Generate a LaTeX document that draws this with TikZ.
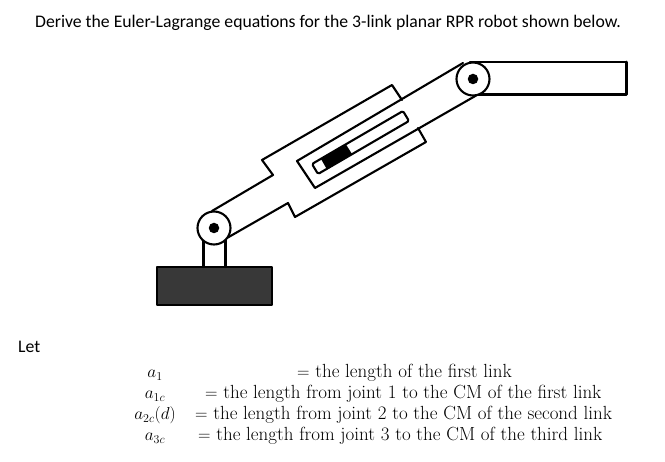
\documentclass[tikz,border=0pt]{standalone}
\usepackage{fontspec}
\setmainfont{Latin Modern Roman}
\newfontfamily\calibri{Carlito}
\begin{document}
\begin{tikzpicture}[x=1pt,y=-1pt,line join=round,line cap=round,
	edge/.style={line width=2.1pt},
	joint/.style={circle,draw,fill=white,line width=2.1pt,minimum size=33pt,inner sep=0pt},
	pin/.style={circle,fill=black,minimum size=10.5pt,inner sep=0pt},
	math/.style={anchor=base,font=\fontsize{17.5}{20}\selectfont,inner sep=0pt},
	eqn/.style={anchor=base west,font=\fontsize{19}{22}\selectfont,inner sep=0pt},
	plain/.style={font=\calibri\fontsize{17.7}{20}\selectfont,inner sep=0pt}]
	\useasboundingbox (0,0) rectangle (665,462);
	\node[plain,anchor=base] (title) at (328,28) {Derive the Euler-Lagrange equations for the 3-link planar RPR robot shown below.};
	\node[plain,anchor=base west] (let) at (18,353) {Let};
	% base and post
	\draw[edge,fill=black!78] (157,267) rectangle (272,305);
	\draw[edge] (203.5,267)--(203.5,240);
	\draw[edge] (225.5,267)--(225.5,240);
	% first link with its sleeve
	\draw[edge] (212,211)--(273,175)--(262,160)--(392,85)--(402,100);
	\draw[edge] (227,238)--(288,203)--(295,217)--(426,142)--(418,128);
	% second link
	\draw[edge] (463,63)--(297,161)--(315,188)--(477,95);
	% slot
	\draw[edge,rounded corners=1.5pt] (312,164)--(318,174)--(409,121)--(403,111)--cycle;
	\fill (321,159)--(346,144.5)--(352,154)--(327,169.5)--cycle;
	% third link
	\draw[edge] (470,62)--(626,62);
	\draw[edge] (477,94.5)--(626,94.5);
	\draw[line width=2.8pt] (626.5,62)--(626.5,94.5);
	% joints
	\node[joint] (joint1) at (214,228) {};
	\node[pin] (pin1) at (joint1) {};
	\node[joint] (joint2) at (473,79) {};
	\node[pin] (pin2) at (joint2) {};
	% definitions
	\node[math] (a1) at (155,377.5) {$a_1$};
	\node[math] (a1c) at (155,398.5) {$a_{1c}$};
	\node[math] (a2c) at (155,419.5) {$a_{2c}(d)$};
	\node[math] (a3c) at (155,440.5) {$a_{3c}$};
	\node[eqn] (def1) at (297,377.5) {$=$ the length of the first link};
	\node[eqn] (def1c) at (205,398.5) {$=$ the length from joint 1 to the CM of the first link};
	\node[eqn] (def2c) at (195,419.5) {$=$ the length from joint 2 to the CM of the second link};
	\node[eqn] (def3c) at (198,440.5) {$=$ the length from joint 3 to the CM of the third link};
\end{tikzpicture}
\end{document}
